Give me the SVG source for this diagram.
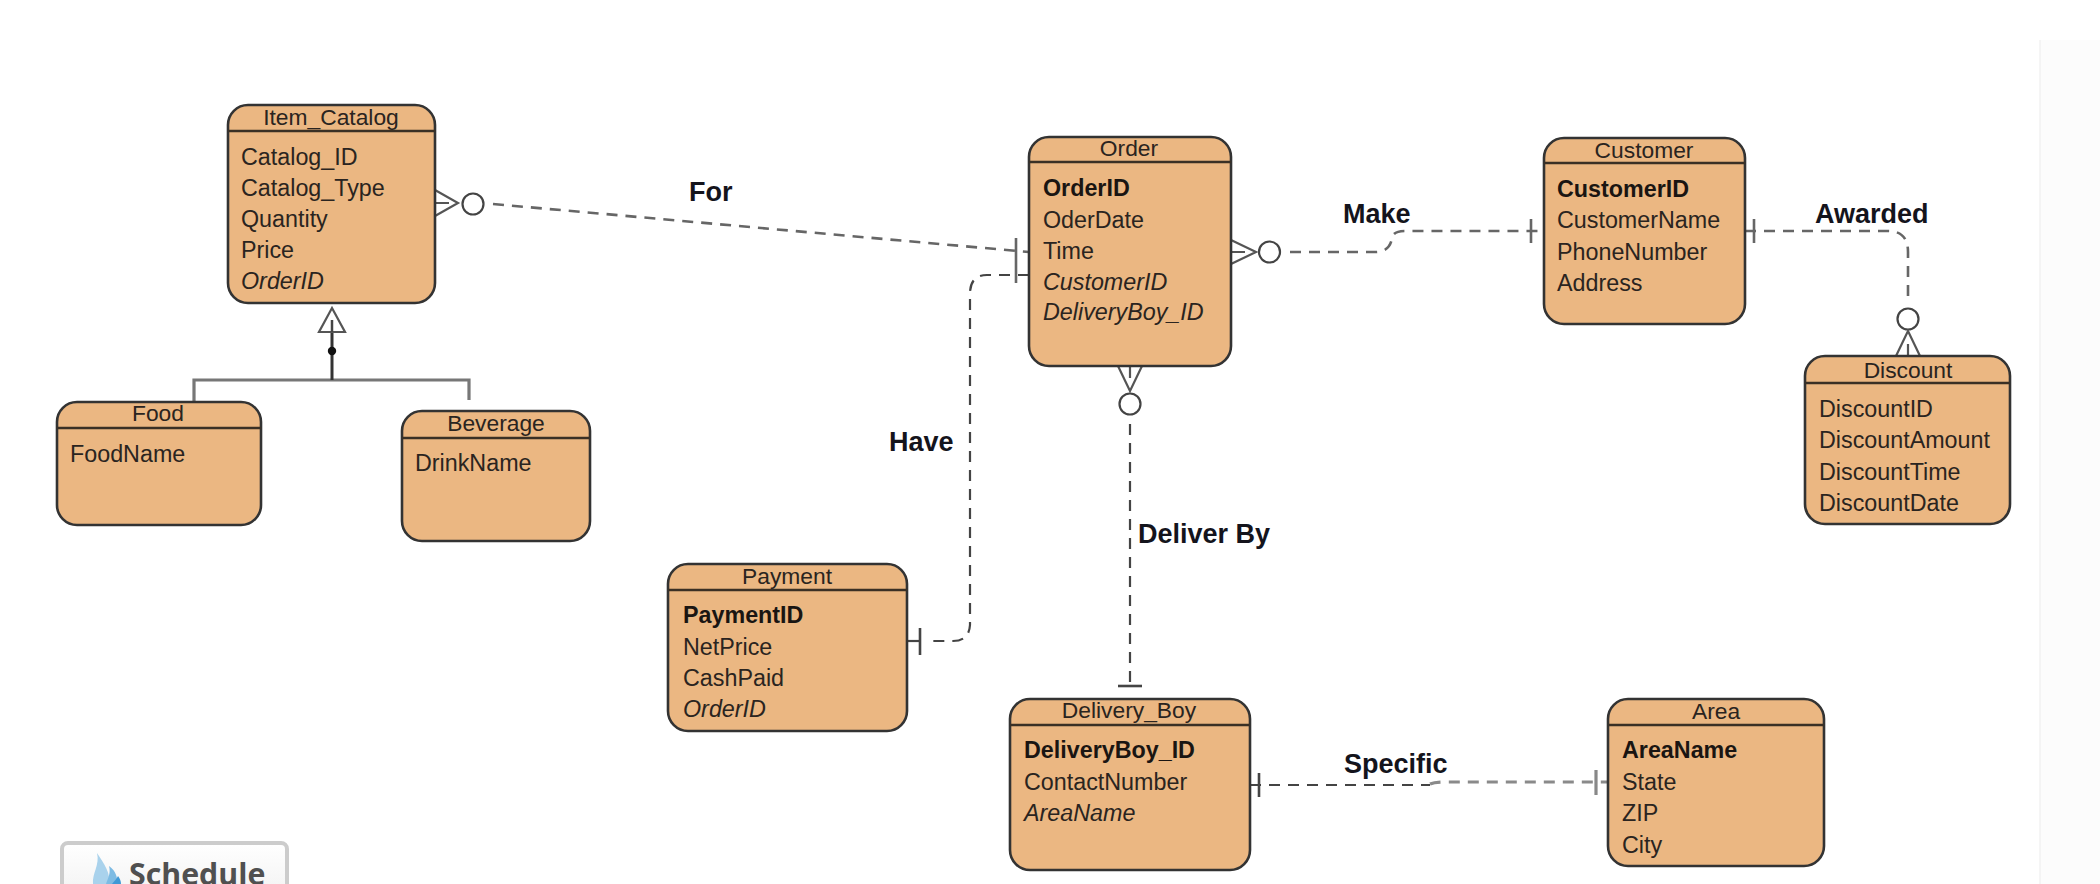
<svg xmlns="http://www.w3.org/2000/svg" width="2100" height="884" viewBox="0 0 2100 884">
<style>
.box{fill:#ebb782;stroke:#333;stroke-width:2.6}
.hd{stroke:#3a3025;stroke-width:2.4}
text{font-family:"Liberation Sans",Arial,sans-serif;font-size:23.3px;fill:#2a2420}
.t{text-anchor:middle;font-size:22.8px}
.k{font-weight:bold;fill:#1a1512}
.f{font-style:italic}
.lb{font-weight:bold;font-size:27px;fill:#14141c}
.d{fill:none;stroke:#666;stroke-width:2.6;stroke-dasharray:11 8}
.dk{fill:none;stroke:#444;stroke-width:2.2;stroke-dasharray:11 8}
.g{fill:none;stroke:#8a8a8a;stroke-width:3.2;stroke-dasharray:11 8}
.bar{stroke:#666;stroke-width:2.6;fill:none}
.cf{fill:none;stroke:#555;stroke-width:2.2}
.c{fill:#fff;stroke:#444;stroke-width:2.2}
</style>
<defs>
<linearGradient id="btn" x1="0" y1="0" x2="0" y2="1"><stop offset="0" stop-color="#fff"/><stop offset="1" stop-color="#f1f1f1"/></linearGradient>
</defs>
<rect x="0" y="0" width="2100" height="884" fill="#fff"/>
<rect x="2040" y="40" width="60" height="844" fill="#fcfcfc"/>
<path d="M2040 40V884" stroke="#f2f2f2" stroke-width="1.5" fill="none"/>

<g id="connectors">
<g id="conn-for">
<path class="d" d="M493 204L1029 252"/>
<path class="cf" d="M435 190L458 203L435 216M435 203H449"/>
<circle class="c" cx="473" cy="204" r="10.5"/>
<path class="bar" d="M1016 238V283"/>
</g>
<g id="conn-have">
<path class="dk" d="M1029 275H987Q971 275 970 292V625Q969 641 953 641H926"/>
<path class="dk" d="M907 641H920" style="stroke-dasharray:none"/>
<path class="bar" d="M920 628V655" style="stroke:#444"/>
</g>
<g id="conn-make">
<path class="d" d="M1290 252H1375Q1390 252 1392 238Q1393 231 1405 231H1544"/>
<path class="cf" d="M1231 240L1256 252L1231 264M1231 252H1245"/>
<circle class="c" cx="1269.500" cy="252" r="10.500"/>
<path class="bar" d="M1531 219V243"/>
</g>
<g id="conn-awarded">
<path class="d" d="M1745 231H1888Q1908 231 1908 252V300"/>
<path class="bar" d="M1754 219V243"/>
<circle class="c" cx="1908" cy="319" r="10.500"/>
<path class="cf" d="M1896 356L1908 331L1920 356M1908 356V344"/>
</g>
<g id="conn-deliver">
<path class="dk" d="M1130 424V686"/>
<path class="cf" d="M1118 366L1130 391L1142 366M1130 366V378"/>
<circle class="c" cx="1130" cy="404" r="10.500"/>
<path class="bar" d="M1118 686H1142" style="stroke:#444"/>
</g>
<g id="conn-specific">
<path class="dk" d="M1250 785H1430"/>
<path class="g" d="M1430 784Q1435 782 1445 782H1608"/>
<path class="bar" d="M1259 773V797" style="stroke:#444"/>
<path class="bar" d="M1596 770V795" style="stroke:#888;stroke-width:3.200"/>
</g>
<g id="conn-inherit">
<path d="M194 402V380H469V400" fill="none" stroke="#777" stroke-width="3.200"/>
<path d="M332 380V332" fill="none" stroke="#333" stroke-width="3"/>
<path d="M332 308L345 332H319Z" fill="#fff" stroke="#555" stroke-width="2.200"/>
<path d="M332 320V332" stroke="#444" stroke-width="2.500" fill="none"/>
<circle cx="332" cy="351" r="4.200" fill="#111"/>
</g>
</g>

<g id="Item_Catalog">
<rect class="box" x="228" y="105" width="207" height="198" rx="20"/>
<path class="hd" d="M228 131H435"/>
<text class="t" x="331" y="125">Item_Catalog</text>
<text x="241" y="165">Catalog_ID</text>
<text x="241" y="196">Catalog_Type</text>
<text x="241" y="227">Quantity</text>
<text x="241" y="258">Price</text>
<text class="f" x="241" y="289">OrderID</text>
</g>
<g id="Food">
<rect class="box" x="57" y="402" width="204" height="123" rx="20"/>
<path class="hd" d="M57 428H261"/>
<text class="t" x="158" y="421">Food</text>
<text x="70" y="462">FoodName</text>
</g>
<g id="Beverage">
<rect class="box" x="402" y="411" width="188" height="130" rx="20"/>
<path class="hd" d="M402 438H590"/>
<text class="t" x="496" y="431">Beverage</text>
<text x="415" y="471">DrinkName</text>
</g>
<g id="Order">
<rect class="box" x="1029" y="137" width="202" height="229" rx="20"/>
<path class="hd" d="M1029 162H1231"/>
<text class="t" x="1129" y="156">Order</text>
<text class="k" x="1043" y="196">OrderID</text>
<text x="1043" y="228">OderDate</text>
<text x="1043" y="259">Time</text>
<text class="f" x="1043" y="290">CustomerID</text>
<text class="f" x="1043" y="320">DeliveryBoy_ID</text>
</g>
<g id="Customer">
<rect class="box" x="1544" y="138" width="201" height="186" rx="20"/>
<path class="hd" d="M1544 163H1745"/>
<text class="t" x="1644" y="158">Customer</text>
<text class="k" x="1557" y="197">CustomerID</text>
<text x="1557" y="228">CustomerName</text>
<text x="1557" y="260">PhoneNumber</text>
<text x="1557" y="291">Address</text>
</g>
<g id="Discount">
<rect class="box" x="1805" y="356" width="205" height="168" rx="20"/>
<path class="hd" d="M1805 383H2010"/>
<text class="t" x="1908" y="378">Discount</text>
<text x="1819" y="417">DiscountID</text>
<text x="1819" y="448">DiscountAmount</text>
<text x="1819" y="480">DiscountTime</text>
<text x="1819" y="511">DiscountDate</text>
</g>
<g id="Payment">
<rect class="box" x="668" y="564" width="239" height="167" rx="20"/>
<path class="hd" d="M668 590H907"/>
<text class="t" x="787" y="584">Payment</text>
<text class="k" x="683" y="623">PaymentID</text>
<text x="683" y="655">NetPrice</text>
<text x="683" y="686">CashPaid</text>
<text class="f" x="683" y="717">OrderID</text>
</g>
<g id="Delivery_Boy">
<rect class="box" x="1010" y="699" width="240" height="171" rx="20"/>
<path class="hd" d="M1010 725H1250"/>
<text class="t" x="1129" y="718">Delivery_Boy</text>
<text class="k" x="1024" y="758">DeliveryBoy_ID</text>
<text x="1024" y="790">ContactNumber</text>
<text class="f" x="1024" y="821">AreaName</text>
</g>
<g id="Area">
<rect class="box" x="1608" y="699" width="216" height="167" rx="20"/>
<path class="hd" d="M1608 725H1824"/>
<text class="t" x="1716" y="719">Area</text>
<text class="k" x="1622" y="758">AreaName</text>
<text x="1622" y="790">State</text>
<text x="1622" y="821">ZIP</text>
<text x="1622" y="853">City</text>
</g>

<g id="labels">
<text class="lb" x="689" y="201">For</text>
<text class="lb" x="1343" y="223">Make</text>
<text class="lb" x="1815" y="223">Awarded</text>
<text class="lb" x="889" y="451">Have</text>
<text class="lb" x="1138" y="543">Deliver By</text>
<text class="lb" x="1344" y="773">Specific</text>
</g>

<g id="schedule-button">
<rect x="62" y="843" width="225" height="60" rx="6" fill="url(#btn)" stroke="#ccc" stroke-width="4"/>
<path d="M97 853C104 864 112 874 108 884H93C92 873 100 865 97 853Z" fill="#a9d2ec"/>
<path d="M109 866C116 871 118 878 117 884H106C108 878 111 873 109 866Z" fill="#7dbbe3"/>
<path d="M118 876C120 879 121 881 121 884H112C114 881 117 879 118 876Z" fill="#3f99d6"/>
<text x="129" y="885" style="font-family:'Open Sans',sans-serif;font-weight:bold;font-size:30.300px;fill:#505050">Schedule</text>
</g>
</svg>
